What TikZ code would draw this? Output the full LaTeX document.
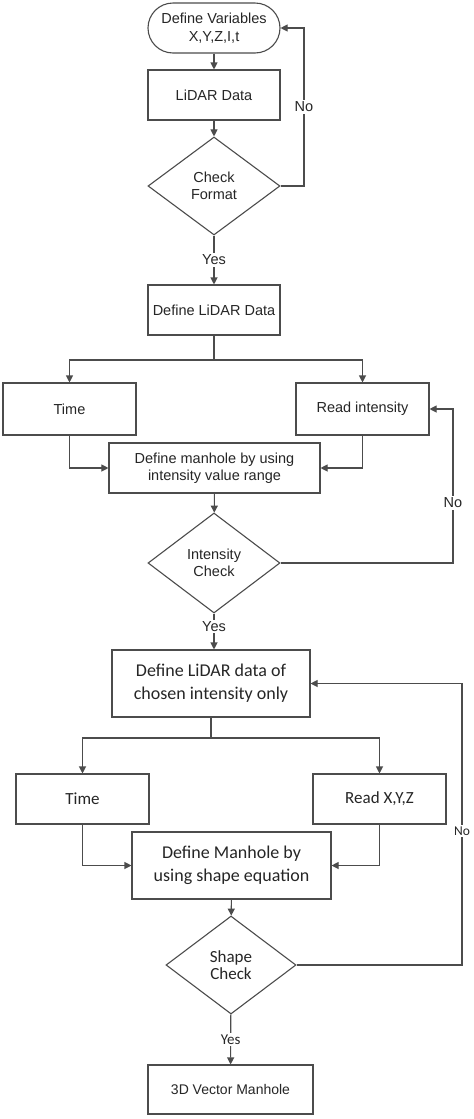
\documentclass[tikz,border=0pt]{standalone}
\usepackage{fontspec}
\setmainfont{Liberation Sans}
\newfontfamily\calfont{Carlito}
\usetikzlibrary{shapes.geometric,arrows.meta}
\begin{document}
\begin{tikzpicture}[x=1bp,y=-1bp,
  every node/.style={text=black!85, align=center},
  ln/.style={draw=black!70, line width=1.1bp},
  arr/.style={ln, -{Triangle[length=7bp,width=7bp]}},
  fa/.style={font=\fontsize{14.5bp}{17.5bp}\selectfont},
  fc/.style={font=\calfont\fontsize{18bp}{23bp}\selectfont},
  fcs/.style={font=\calfont\fontsize{17bp}{17bp}\selectfont},
  boxx/.style={ln, rectangle, inner sep=0pt},
  dia/.style={ln, diamond, inner sep=0pt},
  lbl/.style={fill=white, inner sep=1.5bp},
]
\fill[white] (0,0) rectangle (474,1119);
\useasboundingbox (0,0) rectangle (474,1119);

% top section
\node[boxx, fa, rounded corners=25bp, minimum width=132bp, minimum height=50bp] (start) at (214,28) {Define Variables\\X,Y,Z,I,t};
\node[boxx, fa, minimum width=132bp, minimum height=50bp] (lidar) at (214,95) {LiDAR Data};
\node[dia, fa, minimum width=132bp, minimum height=98bp] (chk1) at (214,186) {Check\\Format};
\node[boxx, fa, minimum width=132bp, minimum height=50bp] (defl) at (214,310) {Define LiDAR Data};
\coordinate (b1) at (214,360);
\coordinate (n1) at (304,186);

% middle section
\node[boxx, fa, minimum width=133bp, minimum height=52bp] (time1) at (69.5,409) {Time};
\node[boxx, fa, minimum width=133bp, minimum height=52bp] (readi) at (362.5,409) {Read intensity};
\node[boxx, fa, minimum width=211bp, minimum height=50bp] (defm) at (214.5,468) {Define manhole by using\\intensity value range};
\node[dia, fa, minimum width=132bp, minimum height=100bp] (chk2) at (214,563) {Intensity\\Check};
\coordinate (n2) at (453,563);

% bottom section
\node[boxx, fc, minimum width=198bp, minimum height=67bp] (defc) at (211,683.5) {Define LiDAR data of\\chosen intensity only};
\coordinate (b2) at (211,738);
\node[boxx, fcs, minimum width=133bp, minimum height=50bp] (time2) at (82.5,799) {Time};
\node[boxx, fcs, minimum width=133bp, minimum height=50bp] (readxyz) at (379.5,799) {Read X,Y,Z};
\node[boxx, fc, minimum width=199bp, minimum height=67bp] (defshape) at (231.5,865.5) {Define Manhole by\\using shape equation};
\node[dia, fcs, minimum width=130bp, minimum height=98bp] (chk3) at (231,965) {Shape\\Check};
\coordinate (n3) at (462,965);
\node[boxx, font=\fontsize{14bp}{17bp}\selectfont, minimum width=165bp, minimum height=49bp] (final) at (230.5,1089.5) {3D Vector Manhole};

% connectors top
\draw[arr] (start) -- (lidar);
\draw[arr] (lidar) -- (chk1);
\draw[arr] (chk1.east) -- (n1) -- node[lbl, fa]{No} (n1 |- start.east) -- (start.east);
\draw[arr] (chk1) -- node[lbl, fa]{Yes} (defl);

% connectors middle
\draw[ln] (defl) -- (b1);
\draw[arr] (b1) -| (time1);
\draw[arr] (b1) -| (readi);
\draw[arr] (time1) |- (defm);
\draw[arr] (readi) |- (defm);
\draw[arr] (defm) -- (chk2);
\draw[arr] (chk2.east) -- (n2) -- node[lbl, fa, pos=0.39]{No} (n2 |- readi.east) -- (readi.east);
\draw[arr] (chk2.south) -- node[lbl, fa, pos=0.35]{Yes} (chk2.south |- defc.north);

% connectors bottom
\draw[ln] (defc) -- (b2);
\draw[arr] (b2) -| (time2);
\draw[arr] (b2) -| (readxyz);
\draw[arr] (time2) |- (defshape);
\draw[arr] (readxyz) |- (defshape);
\draw[arr] (defshape) -- (chk3);
\draw[arr] (chk3.east) -- (n3) -- node[lbl, pos=0.475, font=\calfont\fontsize{13.5bp}{15bp}\selectfont]{No} (n3 |- defc.east) -- (defc.east);
\draw[arr] (chk3) -- node[lbl, font=\calfont\fontsize{15bp}{17bp}\selectfont]{Yes} (final);
\end{tikzpicture}
\end{document}
